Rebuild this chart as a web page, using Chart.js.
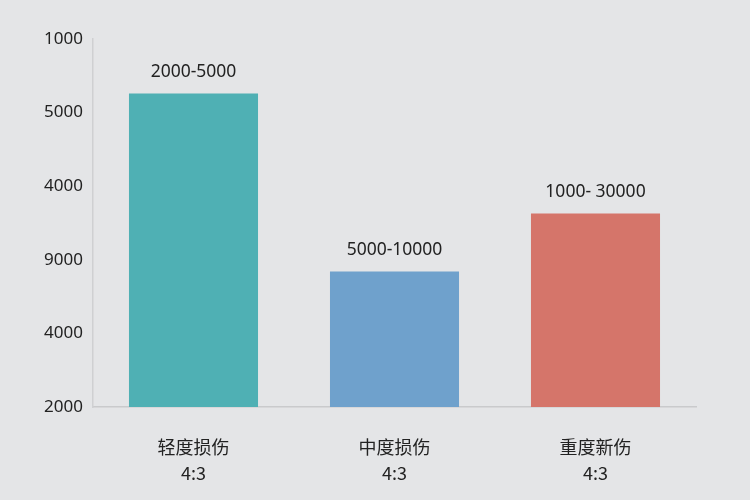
<!DOCTYPE html>
<html>
<head>
<meta charset="utf-8">
<script src="https://cdn.jsdelivr.net/npm/chart.js@4/dist/chart.umd.min.js"></script>
<style>
html, body { margin:0; padding:0; background:#e4e5e7; }
#wrap { width:750px; height:500px; }
</style>
</head>
<body>
<div id="wrap"><canvas id="injuryChart" width="750" height="500"></canvas></div>
<script>
// 분류, 값, 라벨
var categories = [['轻度损伤', '4:3'], ['中度损伤', '4:3'], ['重度新伤', '4:3']]
var barValues = [4.26, 1.84, 2.63]
var rangeLabels = ['2000-5000', '5000-10000', '1000- 30000']
var barColors = ['#4fb0b4', '#6fa1cc', '#d5756a']
// y축 눈금 라벨 (아래에서 위로)
var yTickLabels = ['2000', '4000', '9000', '4000', '5000', '1000']

var rangeLabelPlugin = {
    id: 'rangeLabels',
    afterDatasetsDraw: function (chart) {
        var ctx = chart.ctx
        var meta = chart.getDatasetMeta(0)
        ctx.save()
        ctx.font = '17.5px "Noto Sans", "Noto Sans CJK SC", sans-serif'
        ctx.fillStyle = '#222'
        ctx.textAlign = 'center'
        ctx.textBaseline = 'bottom'
        meta.data.forEach(function (bar, i) {
            ctx.fillText(rangeLabels[i], bar.x, bar.y - 13)
        })
        ctx.restore()
    }
}

var injuryChart = new Chart(document.getElementById('injuryChart'), {
    type: 'bar',
    data: {
        labels: categories,
        datasets: [{
            data: barValues,
            backgroundColor: barColors,
            borderWidth: 0,
            categoryPercentage: 1,
            barPercentage: 0.642
        }]
    },
    options: {
        responsive: false,
        animation: false,
        layout: { padding: { left: 0, right: 54, top: 39, bottom: 0 } },
        plugins: {
            legend: { display: false },
            tooltip: { enabled: false }
        },
        scales: {
            x: {
                grid: { display: false },
                border: { color: '#c9cacc', width: 1.5 },
                ticks: {
                    color: '#222',
                    padding: 20,
                    font: { size: 18, family: '"Noto Sans CJK SC", "Noto Sans", sans-serif', lineHeight: 1.4 }
                },
                afterFit: function (scale) { scale.height = 93 }
            },
            y: {
                min: 0,
                max: 5,
                grid: { display: false },
                border: { color: '#cfd0d2', width: 1.5 },
                ticks: {
                    stepSize: 1,
                    color: '#222',
                    padding: 2,
                    font: { size: 17, family: '"Noto Sans", sans-serif' },
                    callback: function (v) { return yTickLabels[v] }
                },
                afterFit: function (scale) { scale.width = 93 }
            }
        }
    },
    plugins: [rangeLabelPlugin]
})
</script>
</body>
</html>
